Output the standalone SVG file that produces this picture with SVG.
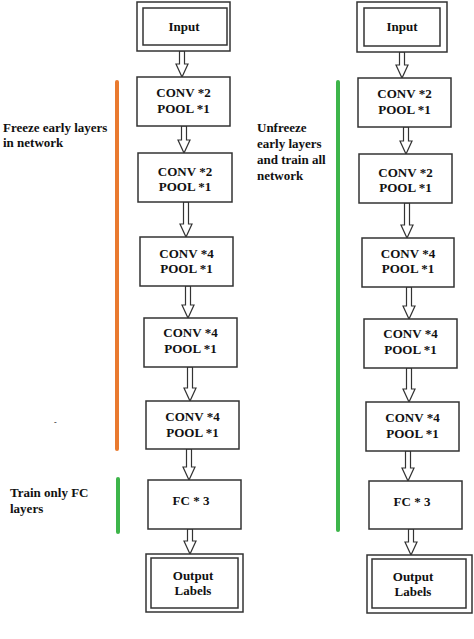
<svg xmlns="http://www.w3.org/2000/svg" width="474" height="639" viewBox="0 0 474 639">
<style>
.box{fill:#fff;stroke:#333;stroke-width:1.5}
.t{font-family:'Liberation Serif','DejaVu Serif','Times New Roman',serif;font-weight:bold;font-size:13px;fill:#111;text-anchor:middle}
.l{font-family:'Liberation Serif','DejaVu Serif','Times New Roman',serif;font-weight:bold;font-size:13px;fill:#111}
.arr{fill:#fff;stroke:#333;stroke-width:1.2}
</style>
<rect width="474" height="639" fill="#fff"/>
<g id="bars">
<line x1="117" y1="82" x2="117" y2="449" stroke="#E97A2F" stroke-width="4" stroke-linecap="round"/>
<line x1="118" y1="479" x2="118" y2="532" stroke="#3DB54A" stroke-width="4" stroke-linecap="round"/>
<line x1="338" y1="82" x2="338" y2="530" stroke="#3DB54A" stroke-width="4" stroke-linecap="round"/>
</g>
<g id="labels">
<text class="l" x="3" y="132" font-family="Liberation Serif, serif">Freeze early layers</text>
<text class="l" x="3" y="147" font-family="Liberation Serif, serif">in network</text>
<text class="l" x="10" y="497" font-family="Liberation Serif, serif">Train only FC</text>
<text class="l" x="10" y="513" font-family="Liberation Serif, serif">layers</text>
<text class="l" x="257" y="132" font-family="Liberation Serif, serif">Unfreeze</text>
<text class="l" x="257" y="148" font-family="Liberation Serif, serif">early layers</text>
<text class="l" x="257" y="164" font-family="Liberation Serif, serif">and train all</text>
<text class="l" x="257" y="180" font-family="Liberation Serif, serif">network</text>
<text class="l" x="54" y="425" style="font-size:8px;font-weight:normal">-</text>
</g>
<g id="connectors">
<path class="arr" d="M179.5,51 V64 H176 L182,77 L188,64 H184.5 V51 Z"/>
<path class="arr" d="M181.5,126 V140 H178 L184,153 L190,140 H186.5 V126 Z"/>
<path class="arr" d="M183.5,202 V224 H180 L186,237 L192,224 H188.5 V202 Z"/>
<path class="arr" d="M185.5,286 V305 H182 L188,318 L194,305 H190.5 V286 Z"/>
<path class="arr" d="M187.5,367 V388 H184 L190,401 L196,388 H192.5 V367 Z"/>
<path class="arr" d="M186.5,449 V467 H183 L189,480 L195,467 H191.5 V449 Z"/>
<path class="arr" d="M187.5,529 V541 H184 L190,554 L196,541 H192.5 V529 Z"/>
<path class="arr" d="M399.5,52 V65 H396 L402,78 L408,65 H404.5 V52 Z"/>
<path class="arr" d="M403.5,127 V141 H400 L406,154 L412,141 H408.5 V127 Z"/>
<path class="arr" d="M404.5,203 V225 H401 L407,238 L413,225 H409.5 V203 Z"/>
<path class="arr" d="M406.5,287 V306 H403 L409,319 L415,306 H411.5 V287 Z"/>
<path class="arr" d="M406.5,368 V389 H403 L409,402 L415,389 H411.5 V368 Z"/>
<path class="arr" d="M405.5,451 V468 H402 L408,481 L414,468 H410.5 V451 Z"/>
<path class="arr" d="M408.5,529 V542 H405 L411,555 L417,542 H413.5 V529 Z"/>
</g>
<g id="L-input"><rect class="box" x="137" y="2" width="93" height="49"/><rect class="box" x="143" y="8" width="84" height="37"/><text class="t" x="184" y="31">Input</text></g>
<g id="L-b1"><rect class="box" x="137" y="77" width="93" height="49"/><text class="t" x="183.5" y="97">CONV *2</text><text class="t" x="183.5" y="113">POOL *1</text></g>
<g id="L-b2"><rect class="box" x="138" y="153" width="94" height="49"/><text class="t" x="185" y="176">CONV *2</text><text class="t" x="185" y="191">POOL *1</text></g>
<g id="L-b3"><rect class="box" x="140" y="237" width="93" height="49"/><text class="t" x="186.5" y="258">CONV *4</text><text class="t" x="186.5" y="273">POOL *1</text></g>
<g id="L-b4"><rect class="box" x="144" y="318" width="93" height="49"/><text class="t" x="190.5" y="337">CONV *4</text><text class="t" x="190.5" y="353">POOL *1</text></g>
<g id="L-b5"><rect class="box" x="146" y="401" width="93" height="48"/><text class="t" x="192.5" y="421">CONV *4</text><text class="t" x="192.5" y="437">POOL *1</text></g>
<g id="L-fc"><rect class="box" x="148" y="480" width="93" height="49"/><text class="t" x="191" y="505">FC * 3</text></g>
<g id="L-out"><rect class="box" x="146" y="554" width="97" height="58"/><rect class="box" x="151" y="558" width="87" height="50"/><text class="t" x="193" y="580">Output</text><text class="t" x="193" y="595">Labels</text></g>
<g id="R-input"><rect class="box" x="357" y="2" width="90" height="50"/><rect class="box" x="364" y="8" width="76" height="38"/><text class="t" x="402" y="31">Input</text></g>
<g id="R-b1"><rect class="box" x="358" y="78" width="93" height="49"/><text class="t" x="404.5" y="98">CONV *2</text><text class="t" x="404.5" y="114">POOL *1</text></g>
<g id="R-b2"><rect class="box" x="359" y="154" width="93" height="49"/><text class="t" x="405.5" y="177">CONV *2</text><text class="t" x="405.5" y="192">POOL *1</text></g>
<g id="R-b3"><rect class="box" x="362" y="238" width="92" height="49"/><text class="t" x="408" y="258">CONV *4</text><text class="t" x="408" y="273">POOL *1</text></g>
<g id="R-b4"><rect class="box" x="364" y="319" width="93" height="49"/><text class="t" x="410.5" y="338">CONV *4</text><text class="t" x="410.5" y="354">POOL *1</text></g>
<g id="R-b5"><rect class="box" x="366" y="402" width="93" height="49"/><text class="t" x="412.5" y="422">CONV *4</text><text class="t" x="412.5" y="438">POOL *1</text></g>
<g id="R-fc"><rect class="box" x="369" y="481" width="93" height="48"/><text class="t" x="412" y="506">FC * 3</text></g>
<g id="R-out"><rect class="box" x="367" y="555" width="105" height="58"/><rect class="box" x="372" y="559" width="94" height="49"/><text class="t" x="413" y="581">Output</text><text class="t" x="413" y="596">Labels</text></g>
</svg>
